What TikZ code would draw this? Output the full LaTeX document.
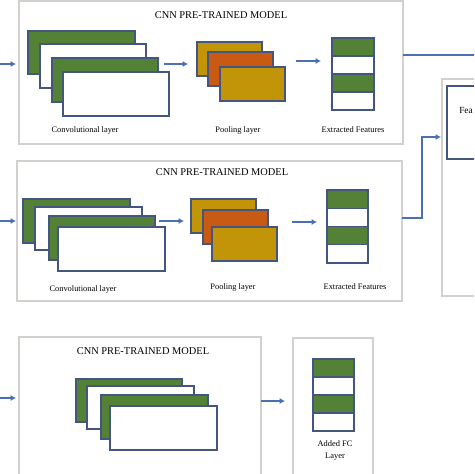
\documentclass[tikz,border=0pt]{standalone}
\usepackage{fontspec}
\setmainfont{Liberation Serif}
\usetikzlibrary{arrows.meta}
\definecolor{cgreen}{HTML}{538135}
\definecolor{cgold}{HTML}{C29408}
\definecolor{corange}{HTML}{C85A14}
\definecolor{cborder}{HTML}{44557F}
\definecolor{cpanel}{HTML}{D3D1CE}
\definecolor{carrow}{HTML}{4A6FB5}
\begin{document}
\begin{tikzpicture}[x=0.75pt,y=-0.75pt,
  px/.style 2 args={minimum width=#1*0.75pt,minimum height=#2*0.75pt},
  blk/.style={draw=cborder,line width=1.1pt,inner sep=0pt,outer sep=0pt,anchor=north west,rectangle},
  gbox/.style={blk,fill=cgreen},
  wbox/.style={blk,fill=white},
  ybox/.style={blk,fill=cgold},
  obox/.style={blk,fill=corange},
  panel/.style={draw=cpanel,line width=1.2pt,fill=white,anchor=north west,inner sep=0pt,outer sep=0pt,rectangle},
  arr/.style={draw=carrow,line width=1pt,-{Latex[length=4pt,width=4.5pt]}},
  conn/.style={draw=carrow,line width=1pt},
  title/.style={font=\fontsize{7.8}{9}\selectfont,inner sep=0pt},
  lab/.style={font=\fontsize{6.3}{7.6}\selectfont,align=center,inner sep=0pt}
]
\useasboundingbox (0,0) rectangle (474,474);
\clip (0,0) rectangle (474,474);
\fill[white] (0,0) rectangle (474,474);

% ---------- top panel ----------
\node[panel,px={384}{143}] (P1) at (19,1) {};
\node[title] (T1) at (221,15) {CNN PRE-TRAINED MODEL};
\node[gbox,px={107}{43}] (c11) at (28,31) {};
\node[wbox,px={106}{44}] (c12) at (40,44) {};
\node[gbox,px={106}{44}] (c13) at (52,58) {};
\node[wbox,px={106}{44}] (c14) at (63,72) {};
\node[ybox,px={65}{34}] (p11) at (197,42) {};
\node[obox,px={65}{34}] (p12) at (208,52) {};
\node[ybox,px={65}{34}] (p13) at (220,67) {};
\node[gbox,px={42}{18}] (f11) at (332,38) {};
\node[wbox,px={42}{18}] (f12) at (332,56) {};
\node[gbox,px={42}{18}] (f13) at (332,74) {};
\node[wbox,px={42}{18}] (f14) at (332,92) {};
\node[lab] (L11) at (85,130) {Convolutional layer};
\node[lab] (L12) at (238,130) {Pooling layer};
\node[lab] (L13) at (353,130) {Extracted Features};

% ---------- middle panel ----------
\node[panel,px={385}{140}] (P2) at (17,161) {};
\node[title] (T2) at (222,172) {CNN PRE-TRAINED MODEL};
\node[gbox,px={107}{44}] (c21) at (23,199) {};
\node[wbox,px={107}{43}] (c22) at (35,207) {};
\node[gbox,px={106}{44}] (c23) at (49,216) {};
\node[wbox,px={107}{44}] (c24) at (58,227) {};
\node[ybox,px={65}{34}] (p21) at (191,199) {};
\node[obox,px={65}{34}] (p22) at (203,210) {};
\node[ybox,px={65}{34}] (p23) at (212,227) {};
\node[gbox,px={41}{18.25}] (f21) at (327,190) {};
\node[wbox,px={41}{18.25}] (f22) at (327,208.25) {};
\node[gbox,px={41}{18.25}] (f23) at (327,226.5) {};
\node[wbox,px={41}{18.25}] (f24) at (327,244.75) {};
\node[lab] (L21) at (83,289) {Convolutional layer};
\node[lab] (L22) at (233,287) {Pooling layer};
\node[lab] (L23) at (355,287) {Extracted Features};

% ---------- bottom panel ----------
\node[panel,px={242}{150}] (P3) at (19,337) {};
\node[title] (T3) at (143,351) {CNN PRE-TRAINED MODEL};
\node[gbox,px={106}{43}] (c31) at (76,379) {};
\node[wbox,px={107}{43}] (c32) at (87,386) {};
\node[gbox,px={107}{44}] (c33) at (101,395) {};
\node[wbox,px={107}{44}] (c34) at (110,406) {};

% ---------- FC panel ----------
\node[panel,px={80}{150}] (P4) at (293,338) {};
\node[gbox,px={41}{18}] (fc1) at (313,359) {};
\node[wbox,px={41}{18}] (fc2) at (313,377) {};
\node[gbox,px={41}{18}] (fc3) at (313,395) {};
\node[wbox,px={41}{18}] (fc4) at (313,413) {};
\node[lab] (L4) at (335,450.5) {Added FC\\[1.2pt]Layer};

% ---------- right panel ----------
\node[panel,px={50}{217}] (P5) at (442,79) {};
\node[blk,fill=white,line width=1.5pt,px={50}{73}] (F5) at (447,86) {};
\node[lab,font=\fontsize{7}{8}\selectfont,anchor=west] (L5) at (459,110) {Fea};

% ---------- connectors ----------
\coordinate (i1) at (0,64);   \coordinate (j1) at (16,64);
\coordinate (i2) at (0,221);  \coordinate (j2) at (16,221);
\coordinate (i3) at (0,398);  \coordinate (j3) at (16,398);
\draw[arr] (i1) -- (j1);
\draw[arr] (i2) -- (j2);
\draw[arr] (i3) -- (j3);

\coordinate (a11) at (164,64);  \coordinate (b11) at (188,64);
\coordinate (a12) at (296,61);  \coordinate (b12) at (321,61);
\draw[arr] (a11) -- (b11);
\draw[arr] (a12) -- (b12);

\coordinate (a21) at (159,221); \coordinate (b21) at (184,221);
\coordinate (a22) at (292,222); \coordinate (b22) at (317,222);
\draw[arr] (a21) -- (b21);
\draw[arr] (a22) -- (b22);

\coordinate (a31) at (261,401); \coordinate (b31) at (285,401);
\draw[arr] (a31) -- (b31);

\coordinate (o1) at (403,55); \coordinate (e1) at (480,55);
\draw[conn] (o1) -- (e1);
\coordinate (o2) at (402,218); \coordinate (e2) at (441,137);
\draw[arr] (o2) -- (422,218) -- (422,137) -- (e2);
\end{tikzpicture}
\end{document}
